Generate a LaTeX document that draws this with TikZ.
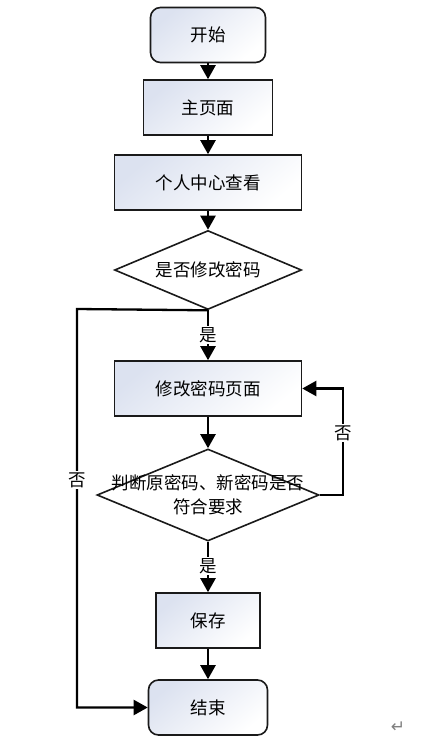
\documentclass[tikz,border=0pt]{standalone}
\usepackage{fontspec}
\setmainfont{Noto Sans CJK SC}
\newfontfamily\symfont{DejaVu Sans}
\usetikzlibrary{shapes.geometric,arrows.meta}
\definecolor{fillA}{HTML}{DCE2F0}
\definecolor{edge}{HTML}{1A1A1A}
\begin{document}
\begin{tikzpicture}[x=1pt,y=-1pt,
  every node/.style={font=\fontsize{17.5}{24}\selectfont},
  boxbase/.style={draw=edge,line width=1.6pt,top color=fillA,bottom color=white,shading angle=40,inner sep=0pt},
  procbox/.style={boxbase,rectangle},
  termbox/.style={boxbase,rectangle,rounded corners=10pt},
  dia/.style={diamond,draw=edge,line width=1.6pt,fill=white,inner sep=0pt},
  txt/.style={inner sep=0pt,align=center},
  lab/.style={fill=white,inner sep=1.5pt},
  arr/.style={line width=2.3pt,draw=black,-{Triangle[length=14pt,width=15pt]}}
]
\useasboundingbox (0,0) rectangle (446,742);
\node[termbox,minimum width=115pt,minimum height=55pt] (start) at (208,35) {开始};
\node[procbox,minimum width=129pt,minimum height=55pt] (home) at (208,107.5) {主页面};
\node[procbox,minimum width=187pt,minimum height=55pt] (center) at (208,182.5) {个人中心查看};
\node[dia,minimum width=187pt,minimum height=79pt] (d1) at (208,270) {};
\node[txt] (d1t) at (d1) {是否修改密码};
\node[procbox,minimum width=187pt,minimum height=55pt] (pwd) at (208,388.5) {修改密码页面};
\node[dia,minimum width=222pt,minimum height=92pt] (d2) at (208,495) {};
\node[txt] (d2t) at (208,495) {判断原密码、新密码是否\\符合要求};
\node[procbox,minimum width=104pt,minimum height=55pt] (save) at (208,620.5) {保存};
\node[termbox,minimum width=119pt,minimum height=55pt] (end) at (208,707.5) {结束};
\coordinate (lft) at (77,309);
\coordinate (rgt) at (343,495);
\draw[arr] (start) -- (home);
\draw[arr] (home) -- (center);
\draw[arr] (center) -- (d1);
\draw[arr] (d1.south) -- (pwd.north);
\draw[arr] (pwd) -- (d2.north);
\draw[arr] (d2.south) -- (save.north);
\draw[arr] (save) -- (end);
\draw[arr] (d1.south) -- (lft) |- (end.west);
\draw[arr] (d2.east) -- (rgt) |- (pwd.east);
\node[lab] (y1) at (208,335) {是};
\node[lab] (y2) at (208,566) {是};
\node[lab] (n1) at (77,480) {否};
\node[lab] (n2) at (343,433) {否};
\node[text=gray,font=\symfont\fontsize{17}{17}\selectfont] (ret) at (398,727) {↵};
\end{tikzpicture}
\end{document}
